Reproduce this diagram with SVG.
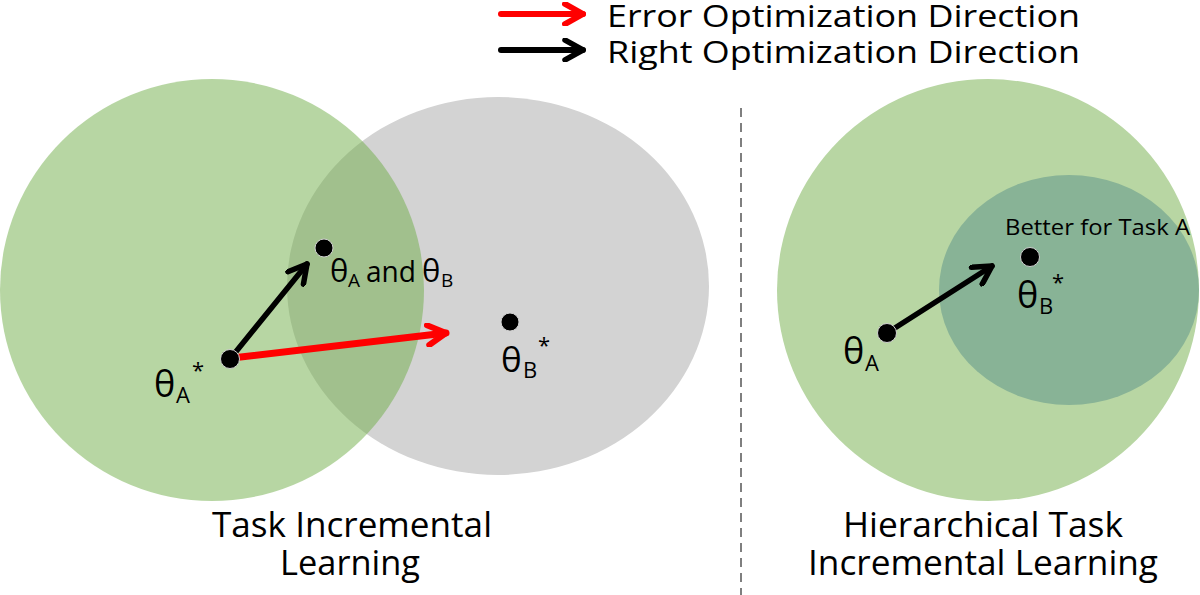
<svg xmlns="http://www.w3.org/2000/svg" width="1200" height="595" viewBox="0 0 1200 595">
<style>
text{font-family:"Open Sans","Noto Sans",sans-serif;fill:#000}
.dot{fill:#000;stroke:#d0d0d0;stroke-width:1}
.ar{fill:none;stroke-linecap:round;stroke-linejoin:round}
</style>
<defs>
<marker id="hk" viewBox="0 0 24 24" refX="21" refY="12" markerWidth="24" markerHeight="24" markerUnits="userSpaceOnUse" orient="auto">
<path d="M3,2 L21,12 L3,22" fill="none" stroke="#000" stroke-width="5.5" stroke-linecap="round" stroke-linejoin="round"/>
</marker>
<marker id="hr" viewBox="0 0 24 24" refX="21" refY="12" markerWidth="24" markerHeight="24" markerUnits="userSpaceOnUse" orient="auto">
<path d="M3,2 L21,12 L3,22" fill="none" stroke="#ff0000" stroke-width="6" stroke-linecap="round" stroke-linejoin="round"/>
</marker>
</defs>
<rect width="1200" height="595" fill="#fff"/>

<g id="legend">
<line class="ar" x1="501" y1="14" x2="583" y2="14" stroke="#ff0000" stroke-width="6" marker-end="url(#hr)"/>
<line class="ar" x1="501" y1="50" x2="583" y2="50" stroke="#000" stroke-width="6" marker-end="url(#hk)"/>
<text x="607" y="27" font-size="31" textLength="473" lengthAdjust="spacingAndGlyphs">Error Optimization Direction</text>
<text x="607" y="63" font-size="31" textLength="473" lengthAdjust="spacingAndGlyphs">Right Optimization Direction</text>
</g>

<g id="region-B">
<ellipse cx="498" cy="286" rx="211" ry="189" fill="#d3d3d3"/>
</g>
<g id="region-A">
<ellipse cx="212" cy="290" rx="212" ry="211" fill="#70ad47" fill-opacity="0.5"/>
</g>

<g id="divider">
<line x1="741" y1="108" x2="741" y2="595" stroke="#555" stroke-width="1.5" stroke-dasharray="9 6"/>
</g>

<g id="region-outer">
<circle cx="988" cy="290" r="211" fill="#b8d6a3"/>
</g>
<g id="region-inner">
<ellipse cx="1069" cy="290" rx="130" ry="115" fill="#88b396"/>
</g>

<g id="connectors">
<line class="ar" x1="230" y1="359" x2="307" y2="264" stroke="#000" stroke-width="5.5" marker-end="url(#hk)"/>
<line class="ar" x1="232" y1="358" x2="446" y2="333" stroke="#ff0000" stroke-width="7" marker-end="url(#hr)"/>
<line class="ar" x1="887" y1="333" x2="992" y2="266" stroke="#000" stroke-width="5.5" marker-end="url(#hk)"/>
</g>

<g id="node-thetaA-star">
<circle class="dot" cx="230" cy="359" r="9.5"/>
<text x="154" y="397" font-size="36">θ</text>
<text x="176" y="403" font-size="22">A</text>
<text x="192" y="378" font-size="22">*</text>
</g>

<g id="node-thetaAB">
<circle class="dot" cx="324" cy="248" r="9"/>
<text x="330" y="282" font-size="31">θ</text>
<text x="348" y="287" font-size="19">A</text>
<text x="366" y="282" font-size="29" textLength="50" lengthAdjust="spacingAndGlyphs">and</text>
<text x="422" y="282" font-size="31">θ</text>
<text x="441" y="287" font-size="19">B</text>
</g>

<g id="node-thetaB-star">
<circle class="dot" cx="510" cy="322" r="9"/>
<text x="501" y="372" font-size="35">θ</text>
<text x="523" y="378" font-size="22">B</text>
<text x="538" y="353" font-size="22">*</text>
</g>

<g id="node-thetaA-right">
<circle class="dot" cx="887" cy="333" r="9.5"/>
<text x="843" y="364" font-size="36">θ</text>
<text x="865" y="371" font-size="22">A</text>
</g>

<g id="node-thetaB-right">
<circle class="dot" cx="1030" cy="257" r="9.5"/>
<text x="1005" y="235" font-size="21" textLength="185" lengthAdjust="spacingAndGlyphs">Better for Task A</text>
<text x="1017" y="308" font-size="36">θ</text>
<text x="1039" y="314" font-size="22">B</text>
<text x="1052" y="290" font-size="22">*</text>
</g>

<g id="captions">
<text x="212" y="537" font-size="35" textLength="280" lengthAdjust="spacingAndGlyphs">Task Incremental</text>
<text x="280" y="575" font-size="35" textLength="140" lengthAdjust="spacingAndGlyphs">Learning</text>
<text x="843" y="537" font-size="35" textLength="280" lengthAdjust="spacingAndGlyphs">Hierarchical Task</text>
<text x="808" y="575" font-size="35" textLength="350" lengthAdjust="spacingAndGlyphs">Incremental Learning</text>
</g>
</svg>
